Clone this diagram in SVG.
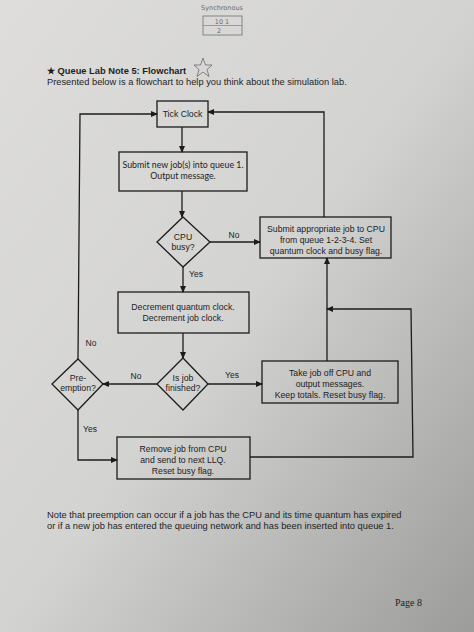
<svg xmlns="http://www.w3.org/2000/svg" width="474" height="632" viewBox="0 0 474 632">
<defs>
<linearGradient id="bg" x1="0" y1="0" x2="1" y2="1">
<stop offset="0" stop-color="#dedddb"/>
<stop offset="0.5" stop-color="#d3d3d1"/>
<stop offset="1" stop-color="#9c9c9b"/>
</linearGradient>
<marker id="ah" markerWidth="7" markerHeight="7" refX="6" refY="3.5" orient="auto" markerUnits="userSpaceOnUse">
<path d="M0,0.5 L7,3.5 L0,6.5 Z" fill="#1c1c1c"/>
</marker>
<style>
.box{fill:none;stroke:#1c1c1c;stroke-width:1.3}
.t{font-family:"Liberation Sans",Arial,sans-serif;font-size:8.7px;fill:#222;text-anchor:middle}
.c{font-family:Lato,"Liberation Sans",sans-serif;font-size:8.8px;fill:#222;text-anchor:middle}
.lbl{font-family:"Liberation Sans",Arial,sans-serif;font-size:8.5px;fill:#222;text-anchor:middle}
.con{fill:none;stroke:#1c1c1c;stroke-width:1.3}
.arr{marker-end:url(#ah)}
.body{font-family:"Liberation Sans",Arial,sans-serif;font-size:9.3px;fill:#1e1e1e}
.hand{font-family:"DejaVu Sans",sans-serif;fill:#6a6a6a}
</style>
</defs>
<rect width="474" height="632" fill="url(#bg)"/>

<g id="handwriting">
<text class="hand" x="222" y="10" font-size="6.5" text-anchor="middle">Synchronous</text>
<rect x="203" y="16" width="39" height="19" fill="none" stroke="#707070" stroke-width="0.8"/>
<line x1="203" y1="25.5" x2="242" y2="25.5" stroke="#707070" stroke-width="0.6"/>
<text class="hand" x="222" y="23.5" font-size="6.5" text-anchor="middle">10 1</text>
<text class="hand" x="219" y="33" font-size="6.5" text-anchor="middle">2</text>
<path d="M203,58 L205.5,65 L212,65 L207,69.5 L209,76.5 L203,72 L197,76.5 L199,69.5 L194,65 L200.5,65 Z" fill="none" stroke="#6a6a6a" stroke-width="0.8"/>
</g>

<g id="header">
<text class="body" x="47" y="74" font-size="9.9" font-weight="bold">★ Queue Lab Note 5: Flowchart</text>
<text class="body" x="47" y="84.5">Presented below is a flowchart to help you think about the simulation lab.</text>
</g>

<g id="connectors">
<line class="con arr" x1="182" y1="127" x2="182" y2="152"/>
<line class="con arr" x1="182" y1="191" x2="182" y2="217"/>
<line class="con arr" x1="210" y1="242" x2="260" y2="242"/>
<polyline class="con arr" points="324,217 324,112 208,112"/>
<line class="con arr" x1="183" y1="267" x2="183" y2="292"/>
<line class="con arr" x1="183" y1="333" x2="183" y2="358"/>
<line class="con arr" x1="208" y1="384" x2="262" y2="384"/>
<line class="con arr" x1="157" y1="384" x2="103" y2="384"/>
<line class="con arr" x1="327" y1="361" x2="327" y2="258"/>
<polyline class="con arr" points="250,457 413,457 411,309 327,309"/>
<polyline class="con arr" points="78,359 80,114 157,114"/>
<polyline class="con arr" points="78,410 78,460 117,460"/>
<text class="lbl" x="234" y="238">No</text>
<text class="lbl" x="196" y="277">Yes</text>
<text class="lbl" x="232" y="378">Yes</text>
<text class="lbl" x="136" y="379">No</text>
<text class="lbl" x="91" y="346">No</text>
<text class="lbl" x="90" y="432">Yes</text>
</g>

<g id="tick-clock">
<rect class="box" x="157" y="101" width="51" height="26"/>
<text class="t" x="182.5" y="117">Tick Clock</text>
</g>

<g id="submit-new-job">
<rect class="box" x="119" y="152" width="128" height="39"/>
<text class="c" x="183" y="168">Submit new job(s) into queue 1.</text>
<text class="c" x="183" y="179">Output message.</text>
</g>

<g id="cpu-busy">
<polygon class="box" points="183,217 210,242 183,267 157,242"/>
<text class="t" x="183" y="240">CPU</text>
<text class="t" x="183" y="250">busy?</text>
</g>

<g id="submit-appropriate">
<rect class="box" x="260" y="217" width="131" height="41"/>
<text class="t" x="326" y="232">Submit appropriate job to CPU</text>
<text class="t" x="326" y="243">from queue 1-2-3-4. Set</text>
<text class="t" x="326" y="254">quantum clock and busy flag.</text>
</g>

<g id="decrement">
<rect class="box" x="118" y="292" width="131" height="41"/>
<text class="t" x="183" y="310">Decrement quantum clock.</text>
<text class="t" x="183" y="321">Decrement job clock.</text>
</g>

<g id="is-job-finished">
<polygon class="box" points="183,358 208,384 183,410 157,384"/>
<text class="t" x="183" y="381">Is job</text>
<text class="t" x="183" y="391">finished?</text>
</g>

<g id="take-job-off">
<rect class="box" x="262" y="361" width="136" height="42"/>
<text class="t" x="330" y="376">Take job off CPU and</text>
<text class="t" x="330" y="387">output messages.</text>
<text class="t" x="330" y="398">Keep totals. Reset busy flag.</text>
</g>

<g id="preemption">
<polygon class="box" points="78,359 103,384 78,410 52,384"/>
<text class="t" x="78" y="381">Pre-</text>
<text class="t" x="78" y="391">emption?</text>
</g>

<g id="remove-job">
<rect class="box" x="117" y="437" width="133" height="42"/>
<text class="t" x="183" y="452">Remove job from CPU</text>
<text class="t" x="183" y="463">and send to next LLQ.</text>
<text class="t" x="183" y="474">Reset busy flag.</text>
</g>

<g id="footer">
<text class="body" x="47" y="518" font-size="9.6">Note that preemption can occur if a job has the CPU and its time quantum has expired</text>
<text class="body" x="47" y="529" font-size="9.6">or if a new job has entered the queuing network and has been inserted into queue 1.</text>
<text x="395" y="606" font-family="'Liberation Serif',serif" font-size="10" fill="#222">Page  8</text>
</g>
</svg>
